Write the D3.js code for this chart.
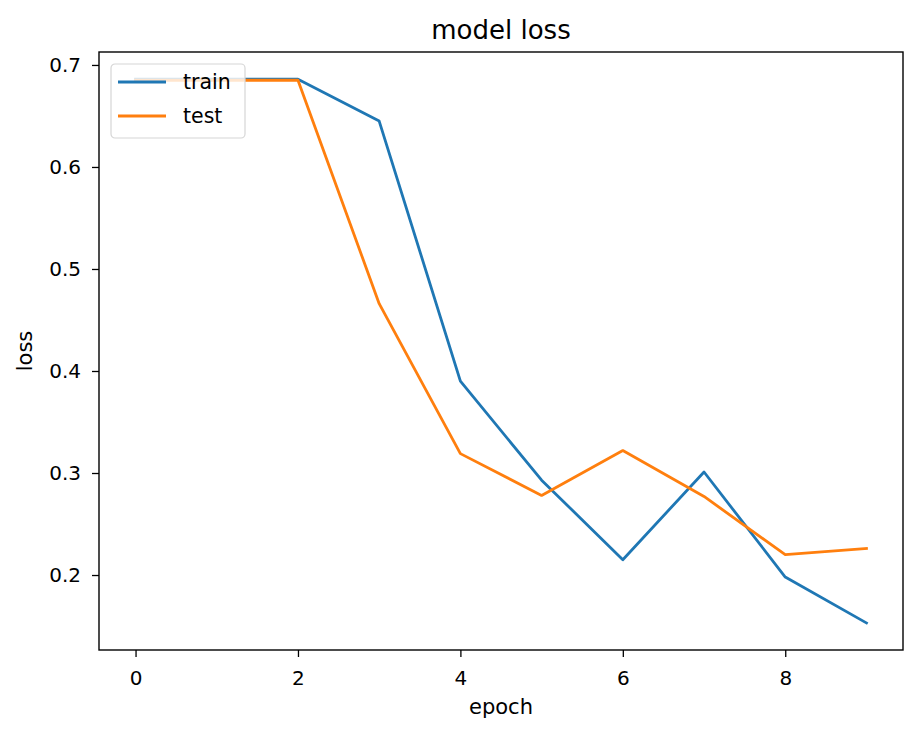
<!DOCTYPE html>
<html>
<head>
<meta charset="utf-8">
<script src="https://cdn.jsdelivr.net/npm/d3@7"></script>
<style>
    body { margin: 0; background: #fff; }
    svg text { font-family: "DejaVu Sans", sans-serif; fill: #000; }
</style>
</head>
<body>
<svg id="chart" width="918" height="736"></svg>
<script>
// values
let epochs = [0, 1, 2, 3, 4, 5, 6, 7, 8, 9];
let trainLoss = [0.686, 0.686, 0.686, 0.645, 0.390, 0.293, 0.215, 0.301, 0.198, 0.153];
let testLoss = [0.685, 0.685, 0.685, 0.466, 0.319, 0.278, 0.322, 0.277, 0.220, 0.226];
let xTicks = [0, 2, 4, 6, 8];
let yTicks = [0.2, 0.3, 0.4, 0.5, 0.6, 0.7];

let series = [
    { name: "train", values: trainLoss, color: "#1f77b4" },
    { name: "test", values: testLoss, color: "#ff7f0e" }
];

let svg = d3.select("#chart");
let margin = { top: 52, right: 15, bottom: 86, left: 99 };
let width = 918 - margin.left - margin.right;
let height = 736 - margin.top - margin.bottom;

let g = svg.append("g")
    .attr("transform", "translate(" + margin.left + "," + margin.top + ")");

// matplotlib style 5% padding on the data range
let x = d3.scaleLinear().domain([-0.45, 9.45]).range([0, width]);
let y = d3.scaleLinear().domain([0.1265, 0.7127]).range([height, 0]);

let xAxis = g.append("g")
    .attr("transform", "translate(0," + height + ")")
    .call(d3.axisBottom(x).tickValues(xTicks).tickFormat(d3.format("d")).tickSize(7).tickPadding(10));

let yAxis = g.append("g")
    .call(d3.axisLeft(y).tickValues(yTicks).tickFormat(d3.format(".1f")).tickSize(7).tickPadding(11));

[xAxis, yAxis].forEach(function(a) {
    a.select(".domain").remove();
    a.selectAll(".tick line").attr("stroke", "#000").attr("stroke-width", 1.3);
    a.selectAll(".tick text")
        .style("font-size", "20px")
        .style("font-family", "DejaVu Sans, sans-serif")
        .attr("fill", "#000");
});
xAxis.selectAll(".tick text").attr("dy", "0.9em");

let line = d3.line()
    .x(function(d, i) { return x(epochs[i]); })
    .y(function(d) { return y(d); });

series.forEach(function(s) {
    g.append("path")
        .datum(s.values)
        .attr("fill", "none")
        .attr("stroke", s.color)
        .attr("stroke-width", 2.8)
        .attr("stroke-linejoin", "round")
        .attr("stroke-linecap", "square")
        .attr("d", line);
});

// frame
g.append("rect")
    .attr("width", width)
    .attr("height", height)
    .attr("fill", "none")
    .attr("stroke", "#000")
    .attr("stroke-width", 1.4);

// legend
let legend = g.append("g").attr("transform", "translate(12,12)");
legend.append("rect")
    .attr("width", 134)
    .attr("height", 74)
    .attr("rx", 4)
    .attr("fill", "#fff")
    .attr("fill-opacity", 0.8)
    .attr("stroke", "#d6d6d6")
    .attr("stroke-width", 1.2);

series.forEach(function(s, i) {
    let row = legend.append("g").attr("transform", "translate(0," + (18 + i * 34) + ")");
    row.append("line")
        .attr("x1", 7).attr("x2", 55)
        .attr("stroke", s.color)
        .attr("stroke-width", 2.8);
    row.append("text")
        .attr("x", 72)
        .attr("dy", "0.35em")
        .style("font-size", "20.5px")
        .text(s.name);
});

// title and axis labels
svg.append("text")
    .attr("x", margin.left + width / 2)
    .attr("y", 39)
    .attr("text-anchor", "middle")
    .style("font-size", "26px")
    .text("model loss");

svg.append("text")
    .attr("x", margin.left + width / 2)
    .attr("y", 714)
    .attr("text-anchor", "middle")
    .style("font-size", "21px")
    .text("epoch");

svg.append("text")
    .attr("transform", "translate(32," + (margin.top + height / 2) + ") rotate(-90)")
    .attr("text-anchor", "middle")
    .style("font-size", "21px")
    .text("loss");
</script>
</body>
</html>
